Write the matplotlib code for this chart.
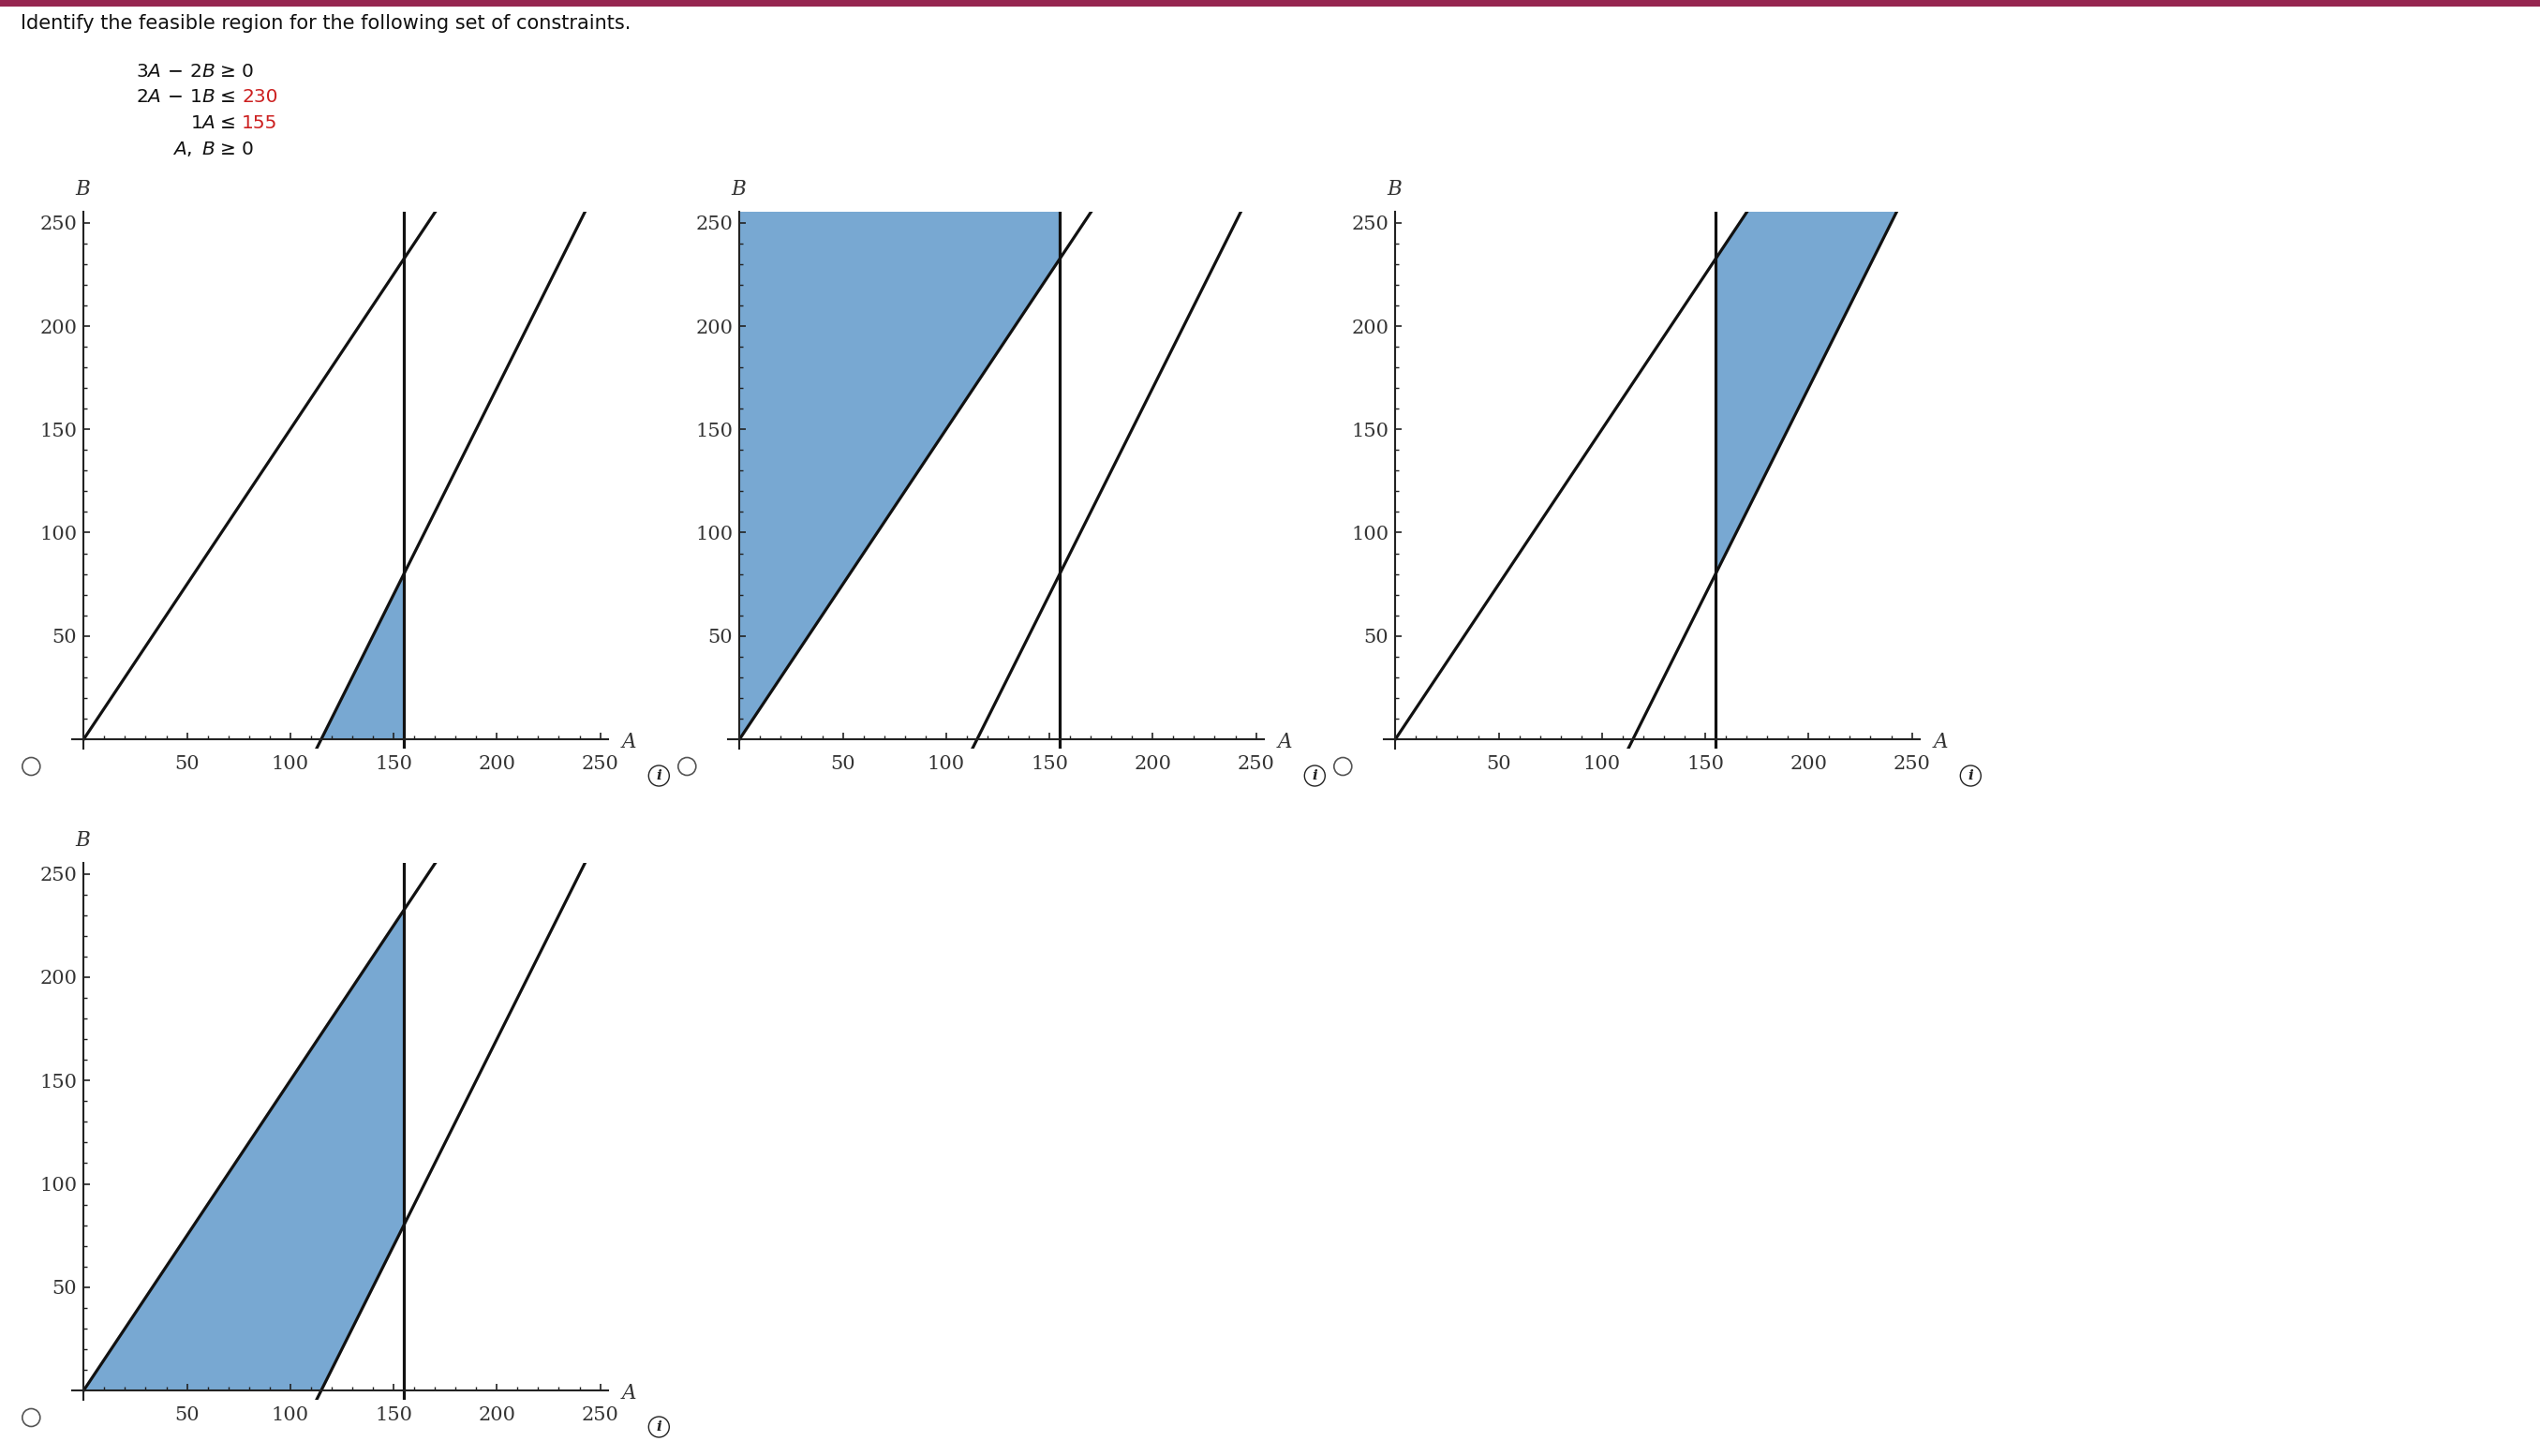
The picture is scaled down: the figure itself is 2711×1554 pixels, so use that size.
import numpy as np
import matplotlib.pyplot as plt
import matplotlib.patches as patches

# constraints: a*A + b*B (sense) rhs
cons_a = [3, 2, 1]
cons_b = [-2, -1, 0]
cons_rhs = [0, 230, 155]
cons_sense = ['>=', '<=', '<=']

# shaded half-planes of each answer option, (a, b, rhs, sense)
option_regions = [
    [(2, -1, 230, '>='), (1, 0, 155, '<='), (0, 1, 0, '>=')],
    [(3, -2, 0, '<='), (1, 0, 155, '<='), (1, 0, 0, '>=')],
    [(1, 0, 155, '>='), (3, -2, 0, '>='), (2, -1, 230, '<=')],
    [(3, -2, 0, '>='), (2, -1, 230, '<='), (1, 0, 155, '<='), (0, 1, 0, '>=')],
]
option_cells = [(0, 0), (1, 0), (2, 0), (0, 1)]

tick_major = [50, 100, 150, 200, 250]
tick_minor = list(range(10, 251, 10))
xlim = (-5.4, 254)
ylim = (-4.6, 255.5)

W, H, DPI = 2711, 1554, 100
fill_color = '#78a8d2'


def clip(poly, a, b, c, sense):
    s = 1 if sense == '<=' else -1
    out = []
    for i in range(len(poly)):
        p, q = poly[i], poly[(i + 1) % len(poly)]
        fp = s * (a * p[0] + b * p[1] - c)
        fq = s * (a * q[0] + b * q[1] - c)
        if fp <= 0:
            out.append(p)
        if fp * fq < 0:
            t = fp / (fp - fq)
            out.append((p[0] + t * (q[0] - p[0]), p[1] + t * (q[1] - p[1])))
    return out


fig = plt.figure(figsize=(W / DPI, H / DPI), dpi=DPI)

#Top bar and question text
fig.add_artist(patches.Rectangle((0, 1 - 7 / H), 1, 7 / H, transform=fig.transFigure, fc='#962650', ec='none'))
fig.text(22 / W, 1 - 25 / H, 'Identify the feasible region for the following set of constraints.',
         fontsize=15, family='DejaVu Sans', va='center', ha='left', color='#111111')

#Constraint list, aligned on the relation sign
left_parts = ['$3A\\,-\\,2B$', '$2A\\,-\\,1B$', '$1A$', '$A,\\ B$']
signs = ['\u2265', '\u2264', '\u2264', '\u2265']
rhs_text = ['0', '230', '155', '0']
rhs_color = ['#111111', '#cc2020', '#cc2020', '#111111']
for i in range(4):
    y = 1 - (76 + 27.7 * i) / H
    fig.text(230 / W, y, left_parts[i], fontsize=14.5, ha='right', va='center', color='#111111')
    fig.text(235 / W, y, signs[i], fontsize=14.5, ha='left', va='center', color='#111111')
    fig.text(258 / W, y, rhs_text[i], fontsize=14.5, ha='left', va='center', color=rhs_color[i])

scale = 2.205
size = (xlim[1] - xlim[0]) * scale
for regions, (col, row) in zip(option_regions, option_cells):
    ox = 89.3 + 700 * col
    oy = 789 + 695 * row
    left = ox + xlim[0] * scale
    bottom = oy - ylim[0] * scale
    ax = fig.add_axes([left / W, 1 - bottom / H, size / W, (ylim[1] - ylim[0]) * scale / H])
    ax.set_xlim(*xlim)
    ax.set_ylim(*ylim)
    ax.patch.set_alpha(0)

    #Shaded region from half-plane clipping
    poly = [(-1000, -1000), (1000, -1000), (1000, 1000), (-1000, 1000)]
    for a, b, c, s in regions:
        poly = clip(poly, a, b, c, s)
    ax.add_patch(patches.Polygon(poly, closed=True, fc=fill_color, ec='none', zorder=1))

    #Constraint lines
    for a, b, c in zip(cons_a, cons_b, cons_rhs):
        if b == 0:
            ax.axvline(c / a, color='#111111', lw=2.3, zorder=3)
        else:
            A = np.array([0, 400])
            ax.plot(A, (c - a * A) / b, color='#111111', lw=2.3, zorder=3)

    #Axes through the origin
    for side in ['top', 'right']:
        ax.spines[side].set_visible(False)
    for side in ['left', 'bottom']:
        ax.spines[side].set_position(('data', 0))
        ax.spines[side].set_linewidth(1.5)
        ax.spines[side].set_color('#222222')
        ax.spines[side].set_zorder(4)
    ax.set_xticks(tick_major)
    ax.set_yticks(tick_major)
    ax.set_xticks(tick_minor, minor=True)
    ax.set_yticks(tick_minor, minor=True)
    ax.tick_params(which='major', direction='in', length=5, width=1.2, color='#222222',
                   labelsize=15, labelcolor='#333333')
    ax.tick_params(which='minor', direction='in', length=3, width=1.0, color='#222222')
    ax.tick_params(axis='x', which='major', pad=12)
    ax.tick_params(axis='y', which='major', pad=5)
    for lab in ax.get_xticklabels() + ax.get_yticklabels():
        lab.set_family('DejaVu Serif')
    ax.text(264, -1.2, 'A', fontsize=15.5, family='DejaVu Serif', style='italic',
            ha='center', va='center', color='#333333', clip_on=False)
    ax.text(-0.6, 266.2, 'B', fontsize=15.5, family='DejaVu Serif', style='italic',
            ha='center', va='center', color='#333333', clip_on=False)

    #Radio button and info icon
    fig.add_artist(patches.Circle(((ox - 56) / DPI, (H - oy - 29) / DPI), 9.5 / DPI,
                                  transform=fig.dpi_scale_trans, fc='white', ec='#555555', lw=1.2))
    ix, iy = ox + 614, oy + 39
    fig.add_artist(patches.Circle((ix / DPI, (H - iy) / DPI), 11 / DPI,
                                  transform=fig.dpi_scale_trans, fc='white', ec='#222222', lw=1.0))
    fig.text(ix / W, 1 - iy / H, 'i', fontsize=11, family='DejaVu Serif', style='italic',
             weight='bold', ha='center', va='center', color='#222222')

fig.savefig('out.png', dpi=DPI)
